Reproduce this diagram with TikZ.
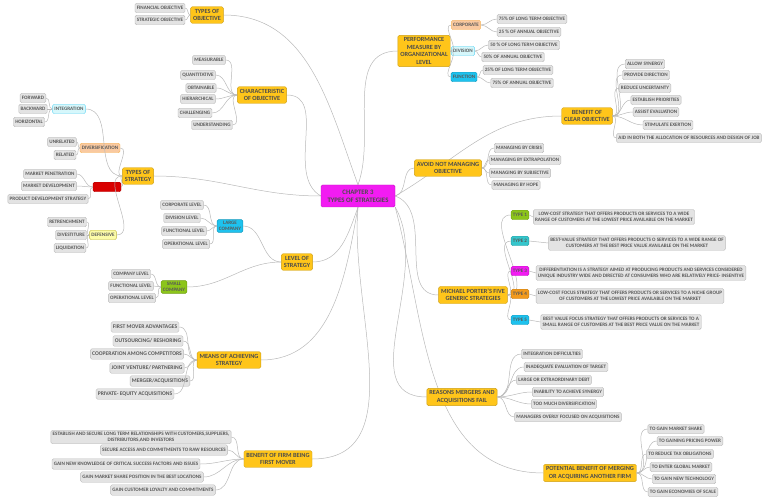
\documentclass[tikz,border=0pt]{standalone}
\usepackage{fontspec}
\setmainfont{Carlito}
\usetikzlibrary{positioning,calc,backgrounds}
\definecolor{myyellow}{HTML}{FFC51A}
\definecolor{mymag}{HTML}{F21CF2}
\definecolor{mycyan}{HTML}{1EC2EE}
\definecolor{lcyan}{HTML}{D6F7FB}
\definecolor{lorange}{HTML}{F9C9A0}
\definecolor{lyellow}{HTML}{FCFCA8}
\definecolor{mygreen}{HTML}{8CC51A}
\definecolor{myteal}{HTML}{35C6CC}
\definecolor{myorange}{HTML}{F39A1C}
\tikzset{
  leaf/.style={draw=gray!55, fill=gray!22, rounded corners=1.5pt, inner sep=1.8pt,
    minimum height=9.5pt, font=\fontsize{5.1}{5.9}\selectfont\bfseries, text=black!65, align=center},
  main/.style={draw=myyellow!80!black, fill=myyellow, rounded corners=1.5pt, inner sep=2.5pt,
    font=\fontsize{6.3}{7.4}\selectfont\bfseries, text=black!70, align=center},
  sub/.style={rounded corners=1.5pt, inner sep=1.8pt, minimum height=9.5pt,
    font=\fontsize{5.1}{5.9}\selectfont\bfseries, text=black!65},
  link/.style={draw=gray!55, line width=0.5pt},
}
\begin{document}
\begin{tikzpicture}[x=1pt,y=-1pt]
\useasboundingbox (0,0) rectangle (768,502);
% centre
\node[draw=mymag!80!black, fill=mymag, rounded corners=1.5pt, inner sep=3pt, align=center,
  font=\fontsize{6.8}{8}\selectfont\bfseries, text=black!70, minimum width=74pt, minimum height=22pt]
  (root) at (358,196) {CHAPTER 3\\ TYPES OF STRATEGIES};
% main branches
\node[main] (tobj) at (207,15) {TYPES OF\\ OBJECTIVE};
\node[main] (char) at (262,95) {CHARACTERISTIC\\ OF OBJECTIVE};
\node[main] (tstr) at (138,176) {TYPES OF\\ STRATEGY};
\node[main] (lvl) at (297,262) {LEVEL OF\\ STRATEGY};
\node[main] (means) at (229,360) {MEANS OF ACHIEVING\\ STRATEGY};
\node[main] (first) at (278,459) {BENEFIT OF FIRM BEING\\ FIRST MOVER};
\node[main] (perf) at (424,51) {PERFORMANCE\\ MEASURE BY\\ ORGANIZATIONAL\\ LEVEL};
\node[main] (clear) at (587,116) {BENEFIT OF\\ CLEAR OBJECTIVE};
\node[main] (avoid) at (448,168) {AVOID NOT MANAGING\\ OBJECTIVE};
\node[main] (porter) at (473,295) {MICHAEL PORTER'S FIVE\\ GENERIC STRATEGIES};
\node[main] (fail) at (462,397) {REASONS MERGERS AND\\ ACQUISITIONS FAIL};
\node[main] (merge) at (590,473) {POTENTIAL BENEFIT OF MERGING\\ OR ACQUIRING ANOTHER FIRM};
% links from the centre
\begin{scope}[on background layer]
\draw[link] (root.north) to[out=110,in=0] (tobj.east);
\draw[link] (root.west) to[out=150,in=0] (char.east);
\draw[link] (root.west) to[out=180,in=0] (tstr.east);
\draw[link] (root.south) to[out=250,in=0] (lvl.east);
\draw[link] (root.south) to[out=260,in=0] (means.east);
\draw[link] (root.south) to[out=265,in=0] (first.east);
\draw[link] (root.north) to[out=70,in=180] (perf.west);
\draw[link] (root.east) to[out=30,in=180] (clear.west);
\draw[link] (root.east) to[out=10,in=180] (avoid.west);
\draw[link] (root.east) to[out=-20,in=180] (porter.west);
\draw[link] (root.south east) to[out=-60,in=180] (fail.west);
\draw[link] (root.south east) to[out=-75,in=180] (merge.west);
\end{scope}
% left leaves
\foreach \x/\y/\t [count=\i] in {160/8/FINANCIAL OBJECTIVE, 160/20/STRATEGIC OBJECTIVE}{
  \node[leaf] (tobj-\i) at (\x,\y) {\t};
  \draw[link] (tobj.west) to[out=180,in=0] (tobj-\i.east);}
\foreach \x/\y/\t [count=\i] in {209/60/MEASURABLE, 198/75/QUANTITATIVE, 201/88/OBTAINABLE,
    198/99/HIERARCHICAL, 195/113/CHALLENGING, 212/125/UNDERSTANDING}{
  \node[leaf] (char-\i) at (\x,\y) {\t};
  \draw[link] (char.west) to[out=180,in=0] (char-\i.east);}
% types of strategy
\node[sub, draw=mycyan!70, fill=lcyan] (integ) at (69,109) {INTEGRATION};
\node[sub, draw=myorange!70, fill=lorange] (divers) at (100,148) {DIVERSIFICATION};
\node[sub, draw=red!70!black, fill=red!85!black, minimum width=28pt] (inten) at (107,187) {};
\node[sub, draw=yellow!70!black, fill=lyellow] (defen) at (103,235) {DEFENSIVE};
\foreach \n in {integ,divers,inten,defen}
  \draw[link] (tstr.west) to[out=180,in=0] (\n.east);
\foreach \x/\y/\t [count=\i] in {33/98/FORWARD, 33/109/BACKWARD, 29/122/HORIZONTAL}{
  \node[leaf] (integ-\i) at (\x,\y) {\t};
  \draw[link] (integ.west) to[out=180,in=0] (integ-\i.east);}
\foreach \x/\y/\t [count=\i] in {62/142/UNRELATED, 65/155/RELATED}{
  \node[leaf] (divers-\i) at (\x,\y) {\t};
  \draw[link] (divers.west) to[out=180,in=0] (divers-\i.east);}
\foreach \x/\y/\t [count=\i] in {50/174/MARKET PENETRATION, 49/186/MARKET DEVELOPMENT,
    48/199/PRODUCT DEVELOPMENT STRATEGY}{
  \node[leaf] (inten-\i) at (\x,\y) {\t};
  \draw[link] (inten.west) to[out=180,in=0] (inten-\i.east);}
\foreach \x/\y/\t [count=\i] in {67/222/RETRENCHMENT, 71/235/DIVESTITURE, 70/248/LIQUIDATION}{
  \node[leaf] (defen-\i) at (\x,\y) {\t};
  \draw[link] (defen.west) to[out=180,in=0] (defen-\i.east);}
% level of strategy
\node[sub, draw=mycyan!80!black, fill=mycyan, align=center] (large) at (230,226) {LARGE\\ COMPANY};
\node[sub, draw=mygreen!80!black, fill=mygreen, align=center] (small) at (174,287) {SMALL\\ COMPANY};
\draw[link] (lvl.west) to[out=180,in=0] (large.east);
\draw[link] (lvl.west) to[out=180,in=0] (small.east);
\foreach \x/\y/\t [count=\i] in {182/205/CORPORATE LEVEL, 182/218/DIVISION LEVEL,
    184/231/FUNCTIONAL LEVEL, 186/244/OPERATIONAL LEVEL}{
  \node[leaf] (large-\i) at (\x,\y) {\t};
  \draw[link] (large.west) to[out=180,in=0] (large-\i.east);}
\foreach \x/\y/\t [count=\i] in {131/274/COMPANY LEVEL, 131/286/FUNCTIONAL LEVEL, 132/298/OPERATIONAL LEVEL}{
  \node[leaf] (small-\i) at (\x,\y) {\t};
  \draw[link] (small.west) to[out=180,in=0] (small-\i.east);}
\foreach \x/\y/\t [count=\i] in {145/327/FIRST MOVER ADVANTAGES, 148/341/{OUTSOURCING/ RESHORING},
    137/354/COOPERATION AMONG COMPETITORS, 147/368/{JOINT VENTURE/ PARTNERING},
    160/381/{MERGER/ACQUISITIONS}, 135/394/PRIVATE- EQUITY ACQUISITIONS}{
  \node[leaf, minimum height=10.5pt, font=\fontsize{5.6}{6.5}\selectfont\bfseries] (means-\i) at (\x,\y) {\t};
  \draw[link] (means.west) to[out=180,in=0] (means-\i.east);}
\foreach \x/\y/\t [count=\i] in {141/437/{ESTABLISH AND SECURE LONG TERM RELATIONSHIPS WITH CUSTOMERS,SUPPLIERS,\\ DISTRIBUTORS,AND INVESTORS},
    164/450/SECURE ACCESS AND COMMITMENTS TO RAW RESOURCES,
    126/464/GAIN NEW KNOWLEDGE OF CRITICAL SUCCESS FACTORS AND ISSUES,
    142/477/GAIN MARKET SHARE POSITION IN THE BEST LOCATIONS,
    163/490/GAIN CUSTOMER LOYALTY AND COMMITMENTS}{
  \node[leaf, minimum height=10.5pt] (first-\i) at (\x,\y) {\t};
  \draw[link] (first.west) to[out=180,in=0] (first-\i.east);}
% right leaves
\node[sub, draw=myorange!70, fill=lorange] (corp) at (466,25) {CORPORATE};
\node[sub, draw=mycyan!70, fill=lcyan] (divi) at (463,51) {DIVISION};
\node[sub, draw=mycyan!80!black, fill=mycyan] (func) at (464,77) {FUNCTION};
\foreach \n in {corp,divi,func}
  \draw[link] (perf.east) to[out=0,in=180] (\n.west);
\foreach \n/\x/\y/\t [count=\i] in {corp/532/19/75\% OF LONG TERM OBJECTIVE, corp/529/32/25 \% OF ANNUAL OBJECTIVE,
    divi/524/45/50 \% OF LONG TERM OBJECTIVE, divi/513/57/50\% OF ANNUAL OBJECTIVE,
    func/518/70/25\% OF LONG TERM OBJECTIVE, func/522/83/75\% OF ANNUAL OBJECTIVE}{
  \node[leaf] (perf-\i) at (\x,\y) {\t};
  \draw[link] (\n.east) to[out=0,in=180] (perf-\i.west);}
\foreach \x/\y/\t [count=\i] in {645/64/ALLOW SYNERGY, 646/75/PROVIDE DIRECTION, 645/88/REDUCE UNCERTAINTY,
    656/100/ESTABLISH PRIORITIES, 656/112/ASSIST EVALUATION, 668/125/STIMULATE EXERTION,
    689/138/AID IN BOTH THE ALLOCATION OF RESOURCES AND DESIGN OF JOB}{
  \node[leaf] (clear-\i) at (\x,\y) {\t};
  \draw[link] (clear.east) to[out=0,in=180] (clear-\i.west);}
\foreach \x/\y/\t [count=\i] in {519/148/MANAGING BY CRISIS, 525/160/MANAGING BY EXTRAPOLATION,
    520/173/MANAGING BY SUBJECTIVE, 516/185/MANAGING BY HOPE}{
  \node[leaf] (avoid-\i) at (\x,\y) {\t};
  \draw[link] (avoid.east) to[out=0,in=180] (avoid-\i.west);}
% porter
\foreach \c/\y/\x/\t [count=\i] in {
    mygreen/215/614/{LOW-COST STRATEGY THAT OFFERS PRODUCTS OR SERVICES TO A WIDE\\ RANGE OF CUSTOMERS AT THE LOWEST PRICE AVAILABLE ON THE MARKET},
    myteal/241/637/{BEST-VALUE STRATEGY THAT OFFERS PRODUCTS O SERVICES TO A WIDE RANGE OF\\ CUSTOMERS AT THE BEST PRICE VALUE AVAILABLE ON THE MARKET},
    mymag/271/641/{DIFFERENTIATION IS A STRATEGY AIMED AT PRODUCING PRODUCTS AND SERVICES CONSIDERED\\ UNIQUE INDUSTRY WIDE AND DIRECTED AT CONSUMERS WHO ARE RELATIVELY PRICE- INSENTIVE},
    myorange/294/630/{LOW-COST FOCUS STRATEGY THAT OFFERS PRODUCTS OR SERVICES TO A NICHE GROUP\\ OF CUSTOMERS AT THE LOWEST PRICE AVAILABLE ON THE MARKET},
    mycyan/320/621/{BEST VALUE FOCUS STRATEGY THAT OFFERS PRODUCTS OR SERVICES TO A\\ SMALL RANGE OF CUSTOMERS AT THE BEST PRICE VALUE ON THE MARKET}}{
  \node[sub, draw=\c!80!black, fill=\c] (type-\i) at (520,\y) {TYPE \i};
  \node[leaf, minimum height=15pt] (desc-\i) at (\x,\y+2) {\t};
  \draw[link] (porter.east) to[out=0,in=180] (type-\i.west);
  \draw[link] (type-\i.east) -- (desc-\i.west);}
\foreach \x/\y/\t [count=\i] in {552/354/INTEGRATION DIFFICULTIES, 566/367/INADEQUATE EVALUATION OF TARGET,
    554/380/LARGE OR EXTRAORDINARY DEBT, 568/392/INABILITY TO ACHIEVE SYNERGY,
    564/404/TOO MUCH DIVERSIFICATION, 568/417/MANAGERS OVERLY FOCUSED ON ACQUISITIONS}{
  \node[leaf] (fail-\i) at (\x,\y) {\t};
  \draw[link] (fail.east) to[out=0,in=180] (fail-\i.west);}
\foreach \x/\y/\t [count=\i] in {676/429/TO GAIN MARKET SHARE, 690/441/TO GAINING PRICING POWER,
    680/454/TO REDUCE TAX OBLIGATIONS, 681/467/TO ENTER GLOBAL MARKET,
    684/479/TO GAIN NEW TECHNOLOGY, 683/492/TO GAIN ECONOMIES OF SCALE}{
  \node[leaf] (merge-\i) at (\x,\y) {\t};
  \draw[link] (merge.east) to[out=0,in=180] (merge-\i.west);}
\end{tikzpicture}
\end{document}
